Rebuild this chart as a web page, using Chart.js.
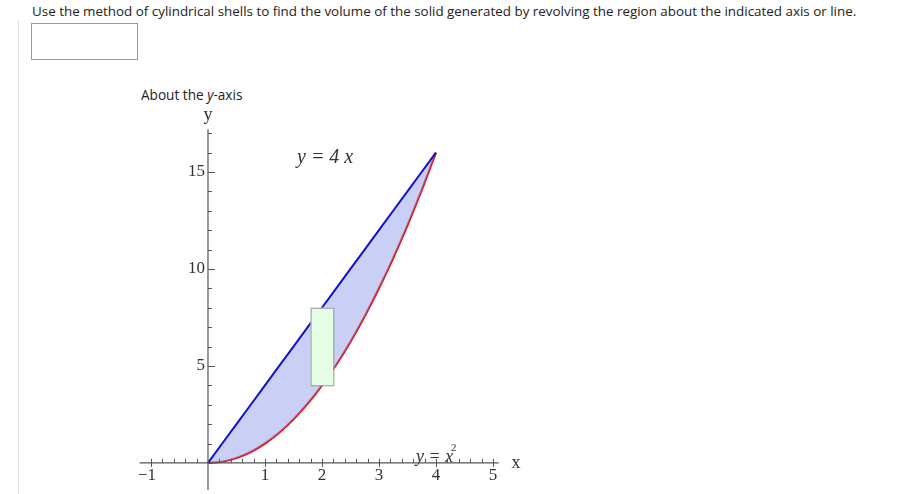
<!DOCTYPE html>
<html><head><meta charset="utf-8">
<script src="https://cdn.jsdelivr.net/npm/chart.js@4.4.0/dist/chart.umd.min.js"></script>
<style>
body{margin:0;width:908px;height:494px;overflow:hidden;background:#fff;font-family:"Open Sans",sans-serif;position:relative}
#q{position:absolute;left:32px;top:2px;font-size:13.4px;color:#222}
#box{position:absolute;left:31px;top:23px;width:105px;height:35px;border:1px solid #999}
#side{position:absolute;left:18px;top:20px;width:1px;height:474px;background:#e4e4e4}
#about{position:absolute;left:141px;top:85px;font-size:13.6px;color:#222}
canvas{position:absolute;left:0;top:0}
</style></head><body>
<div id="q">Use the method of cylindrical shells to find the volume of the solid generated by revolving the region about the indicated axis or line.</div>
<div id="side"></div>
<div id="box"></div>
<div id="about">About the <i>y</i>-axis</div>
<canvas id="c" width="908" height="494"></canvas>
<script>
const xs = [0, 0.25, 0.5, 0.75, 1, 1.25, 1.5, 1.75, 2, 2.25, 2.5, 2.75, 3, 3.25, 3.5, 3.75, 4];
const lineY = [0, 1, 2, 3, 4, 5, 6, 7, 8, 9, 10, 11, 12, 13, 14, 15, 16];
const parabY = [0, 0.06, 0.25, 0.56, 1, 1.56, 2.25, 3.06, 4, 5.06, 6.25, 7.56, 9, 10.56, 12.25, 14.06, 16];
const rectX = [1.8, 2.2];
const rectY = [4, 8];
const xTickLabels = [-1, 1, 2, 3, 4, 5];
const yTickLabels = [5, 10, 15];
const SERIF = '"Liberation Serif", "DejaVu Serif", serif';

const axesPlugin = {
  id: 'axes',
  afterDatasetsDraw(chart) {
    const {ctx, scales: {x, y}} = chart;
    const ox = x.getPixelForValue(0), oy = y.getPixelForValue(0);
    ctx.save();
    // rectangle
    const x0 = x.getPixelForValue(rectX[0]), x1 = x.getPixelForValue(rectX[1]);
    const y0 = y.getPixelForValue(rectY[1]), y1 = y.getPixelForValue(rectY[0]);
    ctx.fillStyle = '#e6fde6';
    ctx.fillRect(x0, y0, x1 - x0, y1 - y0);
    ctx.strokeStyle = '#999';
    ctx.lineWidth = 1;
    ctx.strokeRect(x0 + 0.5, y0 + 0.5, x1 - x0, y1 - y0);
    // axes
    ctx.strokeStyle = '#555';
    ctx.lineWidth = 1.2;
    ctx.beginPath();
    ctx.moveTo(x.getPixelForValue(-1.2), oy); ctx.lineTo(x.getPixelForValue(5.1), oy);
    ctx.moveTo(ox, y.getPixelForValue(-1.4)); ctx.lineTo(ox, y.getPixelForValue(17.2));
    ctx.stroke();
    ctx.lineWidth = 1;
    ctx.beginPath();
    for (let i = -5; i <= 25; i++) {
      if (i === 0) continue;
      const px = Math.round(x.getPixelForValue(i / 5)) + 0.5;
      const major = i % 5 === 0;
      ctx.moveTo(px, oy - 4);
      ctx.lineTo(px, oy + (major ? 4 : 0));
    }
    for (let j = 1; j <= 17; j++) {
      const py = Math.round(y.getPixelForValue(j)) + 0.5;
      ctx.moveTo(ox, py);
      ctx.lineTo(ox + (j % 5 === 0 ? 7 : 4), py);
    }
    ctx.stroke();
    ctx.fillStyle = '#333';
    ctx.font = '17px ' + SERIF;
    ctx.textAlign = 'center';
    ctx.textBaseline = 'top';
    xTickLabels.forEach(v => ctx.fillText(v < 0 ? '\u2212' + (-v) : String(v), x.getPixelForValue(v) - (v < 0 ? 4 : 0), oy + 4));
    ctx.textAlign = 'right';
    ctx.textBaseline = 'middle';
    yTickLabels.forEach(v => ctx.fillText(String(v), ox - 3, y.getPixelForValue(v)));
    ctx.textAlign = 'center';
    ctx.font = '18px ' + SERIF;
    ctx.fillText('y', ox, 115);
    ctx.fillText('x', 516, oy);
    ctx.font = 'italic 20px ' + SERIF;
    ctx.textAlign = 'left';
    ctx.fillText('y = 4 x', 297, 158);
    ctx.font = 'italic 18px ' + SERIF;
    ctx.fillText('y = x', 416, 457);
    ctx.font = '11px ' + SERIF;
    ctx.fillText('2', 451, 448);
    ctx.restore();
  }
};

function draw() {
  new Chart(document.getElementById('c'), {
    type: 'scatter',
    data: {
      datasets: [
        {data: xs.map((v, i) => ({x: v, y: lineY[i]})), showLine: true, borderColor: '#1010d0', borderWidth: 2,
         pointRadius: 0, fill: '+1', backgroundColor: 'rgba(150,160,235,0.5)'},
        {data: xs.map((v, i) => ({x: v, y: parabY[i]})), showLine: true, borderColor: '#e01010', borderWidth: 2.2,
         pointRadius: 0, cubicInterpolationMode: 'monotone', fill: false}
      ]
    },
    options: {
      responsive: false, animation: false,
      layout: {padding: {left: 139.6, right: 398, top: 123.5, bottom: 2}},
      plugins: {legend: {display: false}, tooltip: {enabled: false}},
      scales: {
        x: {type: 'linear', min: -1.2, max: 5.3, display: false},
        y: {type: 'linear', min: -1.5, max: 17.5, display: false}
      }
    },
    plugins: [axesPlugin]
  });
}
draw();
</script>
</body></html>
